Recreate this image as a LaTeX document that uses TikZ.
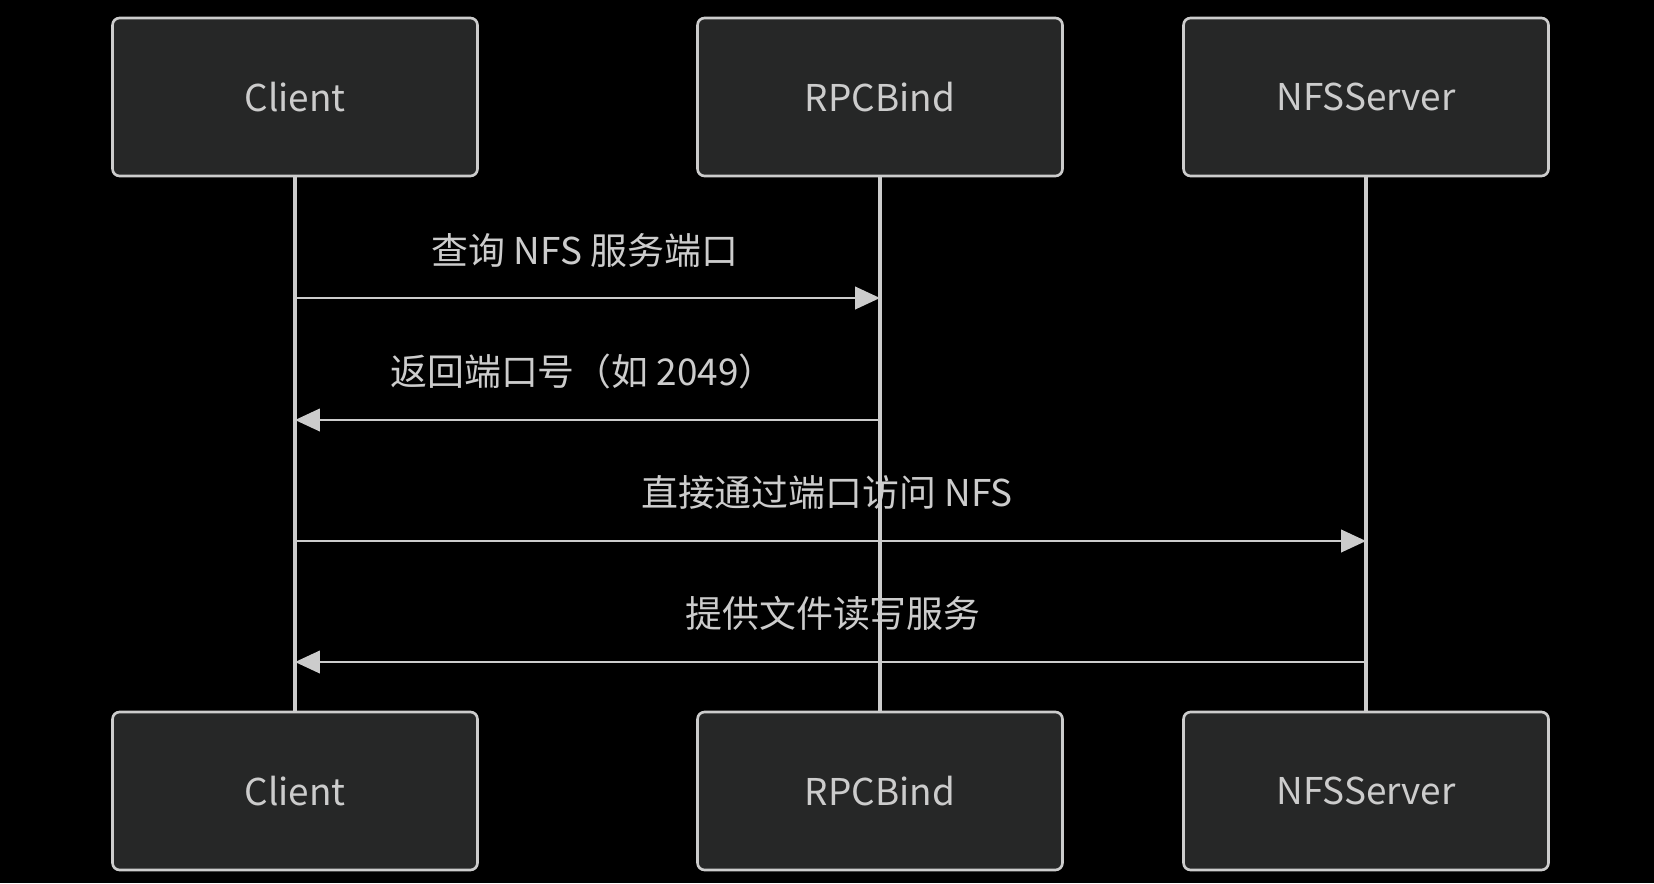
\documentclass[tikz,border=0pt]{standalone}
\usepackage{fontspec}
\setmainfont{Noto Sans CJK SC}
\usetikzlibrary{arrows.meta,positioning}
\definecolor{boxfill}{RGB}{38,39,39}
\definecolor{linegray}{RGB}{204,204,204}
\tikzset{
  actor/.style={draw=linegray, fill=boxfill, line width=1.5pt, rounded corners=4pt, minimum width=7.3cm, minimum height=3.16cm, text=linegray, font=\fontsize{21}{25}\selectfont},
  life/.style={linegray, line width=1.8pt},
  msg/.style={-{Triangle[length=0.5cm,width=0.45cm]}, linegray, line width=1.5pt},
  lbl/.style={text=linegray, font=\fontsize{21}{25}\selectfont}
}
\begin{document}
\begin{tikzpicture}[x=0.02cm,y=-0.02cm]
    \fill[black] (0,0) rectangle (1654,883);
    \useasboundingbox (0,0) rectangle (1654,883);

    % Lifelines
    \draw[life] (295,176) -- (295,712);
    \draw[life] (880,176) -- (880,712);
    \draw[life] (1366,176) -- (1366,712);

    % Actors
    \node[actor] (client) at (295,97) {Client};
    \node[actor] (rpcbind) at (880,97) {RPCBind};
    \node[actor] (nfs) at (1366,97) {NFSServer};
    \node[actor] (client2) at (295,791) {Client};
    \node[actor] (rpcbind2) at (880,791) {RPCBind};
    \node[actor] (nfs2) at (1366,791) {NFSServer};

    % Message points
    \coordinate (c1) at (295,298);  \coordinate (r1) at (880,298);
    \coordinate (c2) at (295,420);  \coordinate (r2) at (880,420);
    \coordinate (c3) at (295,541);  \coordinate (n3) at (1366,541);
    \coordinate (c4) at (295,662);  \coordinate (n4) at (1366,662);

    % Messages
    \draw[msg] (c1) -- (r1);
    \node[lbl] (m1) at (585,250) {查询 NFS 服务端口};
    \draw[msg] (r2) -- (c2);
    \node[lbl] (m2) at (583,371) {返回端口号（如 2049）};
    \draw[msg] (c3) -- (n3);
    \node[lbl] (m3) at (827,492) {直接通过端口访问 NFS};
    \draw[msg] (n4) -- (c4);
    \node[lbl] (m4) at (833,613) {提供文件读写服务};
\end{tikzpicture}
\end{document}
